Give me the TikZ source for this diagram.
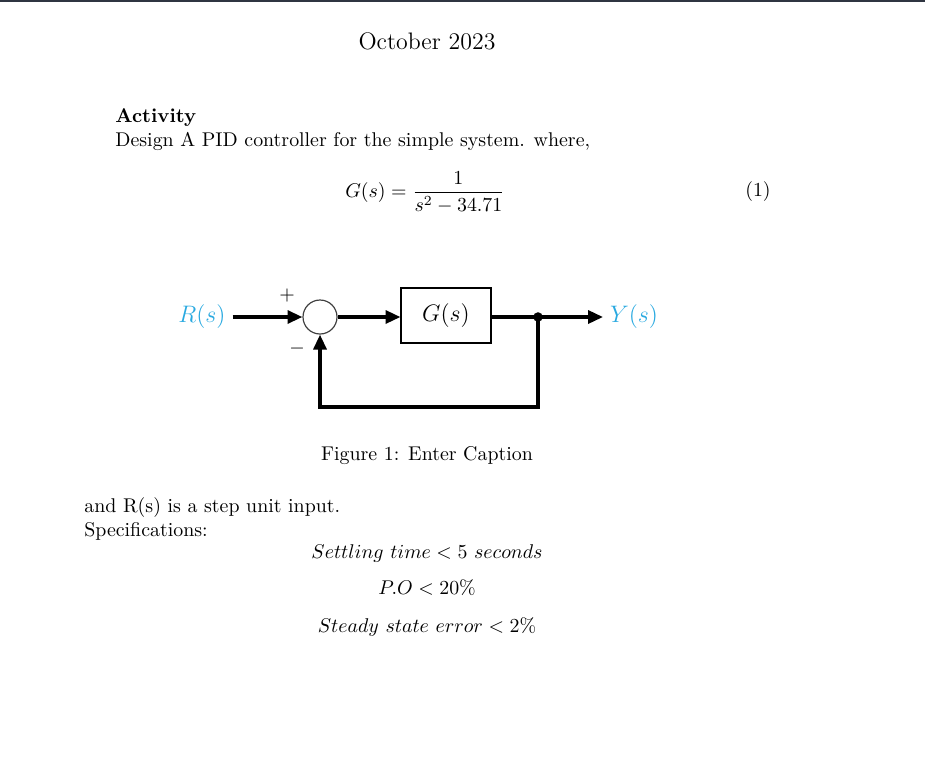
\documentclass[tikz,border=0pt]{standalone}
\usepackage{amsmath}
\usepackage{amssymb}
\usepackage{fontspec}
\usepackage{tikz}
\usetikzlibrary{arrows.meta}
\definecolor{labelblue}{HTML}{29A9E0}
\definecolor{topbar}{HTML}{2F3541}

\begin{document}
\begin{tikzpicture}[x=0.503pt, y=-0.503pt,
	sig/.style={line width=1.7pt, -{Triangle[length=7.5pt, width=6.5pt]}},
	wire/.style={line width=1.7pt},
	lbl/.style={text=labelblue, font=\fontsize{12}{14}\selectfont},
	txt/.style={anchor=base west, inner sep=0pt}]
	\useasboundingbox (0,0) rectangle (925,763);
	\fill[topbar] (0,0) rectangle (925,2);
	% page text
	\node (date) at (427,49) [anchor=base, inner sep=0pt] {\large October 2023};
	\node (act) at (115,122) [txt] {\textbf{Activity}};
	\node (task) at (115,146) [txt] {Design A PID controller for the simple system. where,};
	\node (eq) at (425,192) {$\displaystyle G(s)=\frac{1}{s^2-34.71}$};
	\node (eqno) at (758,192) {(1)};
	% block diagram
	\node (R) at (202,317) [lbl] {$R(s)$};
	\node (sum) at (320,317) [circle, draw=black!75, line width=0.6pt, minimum size=17.1pt, inner sep=0pt] {};
	\node (G) at (446,315.5) [draw, line width=1pt, minimum width=44.8pt, minimum height=27.7pt,
		font=\fontsize{12}{14}\selectfont] {$G(s)$};
	\node (Y) at (634,317) [lbl] {$Y(s)$};
	\node (plus) at (287,296) {$+$};
	\node (minus) at (297,349) {$-$};
	\coordinate (split) at (538,317);
	\coordinate (corner) at (320,407);
	\draw[sig] (R) -- (sum);
	\draw[sig] (sum) -- (sum -| G.west);
	\draw[wire] (G.east |- split) -- (split);
	\draw[sig] (split) -- (Y);
	\fill (split) circle (2.4pt);
	\draw[sig] (split) |- (corner) -- (sum);
	\node (cap) at (427,460) [anchor=base, inner sep=0pt] {Figure 1: Enter Caption};
	% specifications
	\node (inp) at (84,512) [txt] {and R(s) is a step unit input.};
	\node (spec) at (84,536) [txt] {Specifications:};
	\node (ts) at (427,558) [anchor=base, inner sep=0pt] {$Settling\ time < 5\ seconds$};
	\node (po) at (427,594) [anchor=base, inner sep=0pt] {$P.O < 20\%$};
	\node (ess) at (427,632) [anchor=base, inner sep=0pt] {$Steady\ state\ error < 2\%$};
\end{tikzpicture}
\end{document}
